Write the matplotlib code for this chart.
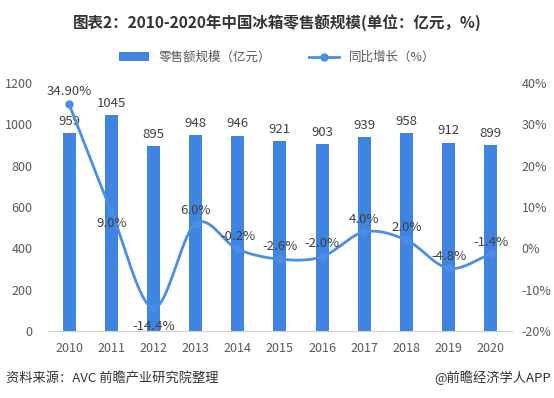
import numpy as np
import matplotlib
matplotlib.use('Agg')
from matplotlib import pyplot as plt
from matplotlib.lines import Line2D

plt.rcParams['font.family'] = ['Noto Sans CJK SC', 'DejaVu Sans']

years = ['2010', '2011', '2012', '2013', '2014', '2015', '2016', '2017', '2018', '2019', '2020']
sales = [959, 1045, 895, 948, 946, 921, 903, 939, 958, 912, 899]
growth = [34.9, 9.0, -14.4, 6.0, -0.2, -2.6, -2.0, 4.0, 2.0, -4.8, -1.4]
growth_labels = ['34.90%', '9.0%', '-14.4%', '6.0%', '-0.2%', '-2.6%', '-2.0%', '4.0%', '2.0%', '-4.8%', '-1.4%']

bar_c = '#3f84e0'
line_c = '#4a8ee6'
txt_c = '#404040'
tick_c = '#595959'


def smooth(xs, ys, n=20):
    # Catmull-Rom curve through the points, like Excel's smoothed line
    xs = np.asarray(xs, float)
    ys = np.asarray(ys, float)
    px = np.concatenate([[2 * xs[0] - xs[1]], xs, [2 * xs[-1] - xs[-2]]])
    py = np.concatenate([[2 * ys[0] - ys[1]], ys, [2 * ys[-1] - ys[-2]]])
    ox, oy = [], []
    for i in range(1, len(px) - 2):
        t = np.linspace(0, 1, n, endpoint=False)
        for p, o in ((px, ox), (py, oy)):
            p0, p1, p2, p3 = p[i - 1], p[i], p[i + 1], p[i + 2]
            o.extend(0.5 * ((2 * p1) + (-p0 + p2) * t
                            + (2 * p0 - 5 * p1 + 4 * p2 - p3) * t ** 2
                            + (-p0 + 3 * p1 - 3 * p2 + p3) * t ** 3))
    ox.append(xs[-1])
    oy.append(ys[-1])
    return np.array(ox), np.array(oy)


fig = plt.figure(figsize=(5.54, 3.98), dpi=100)
ax = fig.add_axes([0.0866, 0.168, 0.8374, 0.6235])
x = np.arange(len(years))

ax.bar(x, sales, width=0.31, color=bar_c, zorder=2, label='零售额规模（亿元）')
for xi, v in zip(x, sales):
    ax.text(xi, v + 25, str(v), ha='center', va='bottom', fontsize=9.5, color=txt_c, zorder=5)

ax.set_ylim(0, 1200)
ax.set_yticks(range(0, 1201, 200))
ax.set_xlim(-0.5, len(years) - 0.5)
ax.set_xticks(x)
ax.set_xticklabels(years)
for s in ['top', 'right', 'left']:
    ax.spines[s].set_visible(False)
ax.spines['bottom'].set_color('#d0d0d0')
ax.tick_params(axis='both', length=0, labelsize=9, colors=tick_c)
ax.tick_params(axis='x', pad=8)
ax.tick_params(axis='y', pad=11)

ax2 = ax.twinx()
sx, sy = smooth(x, growth)
ax2.plot(sx, sy, color=line_c, lw=2, zorder=3)
ax2.plot(x, growth, 'o', color=line_c, ms=5, zorder=4)
offs = [1.5, -4.5, -6.0, 1.5, 1.5, 1.5, 1.5, 1.5, 1.5, 1.2, 1.2]
for xi, g, lab, o in zip(x, growth, growth_labels, offs):
    ax2.text(xi, g + o, lab, ha='center', va='bottom', fontsize=9.5, color=txt_c, zorder=5)
ax2.set_ylim(-20, 40)
ax2.set_yticks(range(-20, 41, 10))
ax2.set_yticklabels([f'{v}%' for v in range(-20, 41, 10)])
for s in ['top', 'right', 'left', 'bottom']:
    ax2.spines[s].set_visible(False)
ax2.tick_params(axis='y', length=0, labelsize=9, colors=tick_c, pad=7)
ax2.set_zorder(ax.get_zorder() + 1)
ax2.patch.set_visible(False)

h1, l1 = ax.get_legend_handles_labels()
h2 = [Line2D([0], [0], color=line_c, lw=2, marker='o', ms=5)]
fig.legend(h1 + h2, l1 + ['同比增长（%）'], loc='center', bbox_to_anchor=(0.5, 0.855),
           ncol=2, frameon=False, fontsize=9, handlelength=2.4, columnspacing=3,
           labelcolor=tick_c)

fig.text(0.5, 0.94, '图表2：2010-2020年中国冰箱零售额规模(单位：亿元，%)', ha='center', va='center',
         fontsize=11.2, fontweight='bold', color='#333333')
fig.text(0.01, 0.05, '资料来源：AVC 前瞻产业研究院整理', ha='left', va='center', fontsize=9.5, color='#333333')
fig.text(0.995, 0.05, '@前瞻经济学人APP', ha='right', va='center', fontsize=9.5, color='#333333')

fig.savefig('out.png', dpi=100)
